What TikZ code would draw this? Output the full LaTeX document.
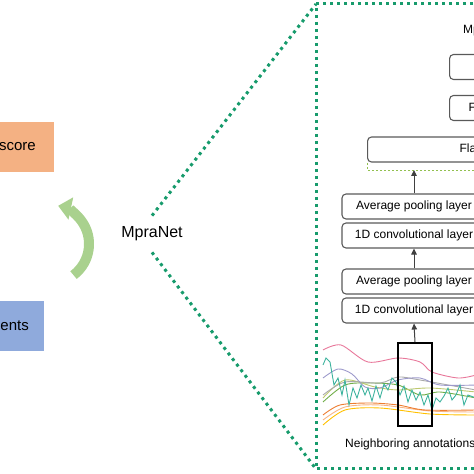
\documentclass[tikz,border=0pt]{standalone}
\usepackage{fontspec}
\setmainfont{Liberation Sans}
\usetikzlibrary{shapes.geometric, arrows, arrows.meta}
\definecolor{dotgreen}{HTML}{179B6C}
\definecolor{scoreorange}{HTML}{F4B183}
\definecolor{inputblue}{HTML}{8FAADC}
\definecolor{loopgreen}{HTML}{A9D18E}
\definecolor{boxgray}{HTML}{595959}
\definecolor{arrowgray}{HTML}{404040}
\definecolor{limegreen}{HTML}{92C050}
\tikzstyle{side} = [rectangle, minimum height=50pt, anchor=east, font=\fontsize{15}{18}\selectfont]
\tikzstyle{layer} = [rectangle, rounded corners=4pt, minimum width=144pt, minimum height=25pt, text centered, draw=boxgray, line width=1.1pt, font=\fontsize{12}{14}\selectfont]
\tikzstyle{openlayer} = [layer, anchor=west, minimum width=0pt]
\tikzstyle{label} = [inner sep=0pt, anchor=west, font=\fontsize{12}{14}\selectfont]
\tikzstyle{arrow} = [line width=1pt, draw=arrowgray, -{Triangle[length=6pt,width=5.5pt]}]
\tikzstyle{link} = [draw=dotgreen, line width=3pt, dash pattern=on 3pt off 4pt]
\tikzstyle{trace} = [line width=0.9pt]
\begin{document}
\begin{tikzpicture}[x=1pt, y=1pt, node distance=29pt]
\useasboundingbox (0,0) rectangle (474,474);
\clip (0,0) rectangle (474,474);
% left side
\node (score) [side, fill=scoreorange, inner xsep=18pt] at (54,327) {score};
\node (ents) [side, fill=inputblue, inner xsep=15pt] at (44,148) {ents};
\draw [line width=10pt, draw=loopgreen, -{Triangle[length=13pt,width=22pt]}] (73.5,198.9) arc[start angle=-53, end angle=78, radius=39];
\node (mpranet) [inner xsep=0pt, inner ysep=11pt, font=\fontsize{16}{19}\selectfont] at (152,240) {MpraNet};
% zoomed panel
\coordinate (boxtl) at (316,470);
\coordinate (boxbl) at (316,5);
\draw [link] (mpranet.north) -- (boxtl);
\draw [link] (mpranet.south) -- (boxbl);
\draw [link] (480,470) -- (boxtl) -- (boxbl) -- (480,5);
\node (title) [label] at (463,443) {MpraNet};
\node (out) [openlayer, minimum width=60pt] at (449,407) {};
\node (dense) [openlayer, inner xsep=19pt] at (449,366) {Fully connected layer};
\node (flat) [openlayer, inner xsep=92pt] at (367,324.5) {Flatten layer};
\coordinate (flatbase) at (414,304);
\draw [draw=limegreen, line width=0.8pt, dash pattern=on 2pt off 2pt] (367,311) -- (367,304) -- (480,304);
\node (conv1) [layer] at (414,238.5) {1D convolutional layer};
\node (avg1) [layer, above of=conv1] {Average pooling layer};
\node (conv2) [layer] at (414,163.5) {1D convolutional layer};
\node (avg2) [layer, above of=conv2] {Average pooling layer};
% annotation tracks
\draw [trace, draw={rgb,255:red,232;green,119;blue,154}] plot[smooth] coordinates {(323,124) (341,129) (368,112) (398,116) (420,112) (432,102) (458,96) (476,99)};
\draw [trace, draw={rgb,255:red,255;green,192;blue,0}] plot[smooth] coordinates {(323,49) (345,64) (380,66) (430,60) (476,59)};
\draw [trace, draw={rgb,255:red,248;green,180;blue,130}] plot[smooth] coordinates {(323,54) (345,67) (380,69) (430,63) (476,62)};
\draw [trace, draw={rgb,255:red,237;green,125;blue,49}] plot[smooth] coordinates {(323,59) (340,69) (370,71) (398,69) (425,64) (476,64)};
\draw [trace, draw={rgb,255:red,112;green,173;blue,71}] plot[smooth] coordinates {(323,72) (345,89) (370,91) (398,89) (420,79) (440,82) (476,76)};
\draw [trace, draw={rgb,255:red,190;green,200;blue,110}] plot[smooth] coordinates {(323,76) (345,94) (375,87) (398,84) (430,86) (476,82)};
\draw [trace, draw={rgb,255:red,170;green,170;blue,170}] plot[smooth] coordinates {(323,79) (345,92) (380,91) (398,97) (420,94) (476,84)};
\draw [trace, draw={rgb,255:red,157;green,154;blue,203}] plot[smooth] coordinates {(323,96) (338,105) (352,100) (365,87) (380,86) (398,94) (420,96) (440,89) (476,89)};
\draw [trace, draw={rgb,255:red,61;green,179;blue,158}] plot coordinates {(323,109) (326,116) (330,112) (334,89) (338,96) (342,79) (345,94) (349,69) (353,86) (357,76) (361,89) (365,79) (368,86) (372,73) (376,88) (380,76) (384,90) (388,84) (392,96) (396,92) (400,79) (404,88) (408,72) (412,84) (416,74) (420,82) (424,69) (428,79) (432,64) (436,76) (440,72) (444,78) (448,86) (452,74) (456,79) (460,89) (464,69) (468,79) (476,76)};
\node (window) [rectangle, draw=black, line width=1.8pt, minimum width=34pt, minimum height=83pt] at (415,89.5) {};
\node (neighbors) [label] at (345,30) {Neighboring annotations};
% flow
\draw [arrow] (window.north) -- (conv2.south);
\draw [arrow] (avg2.north) -- (conv1.south);
\draw [arrow] (avg1.north) -- (flatbase);
\end{tikzpicture}
\end{document}
